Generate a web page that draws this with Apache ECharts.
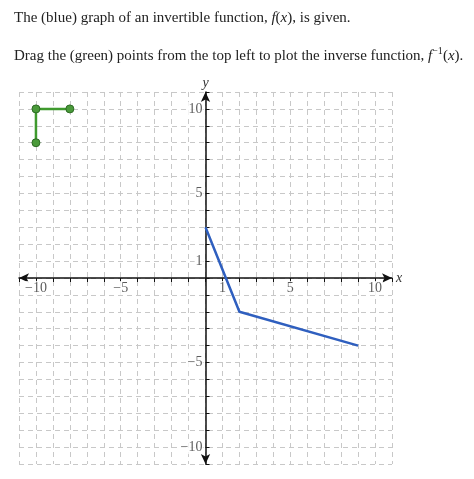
<!DOCTYPE html>
<html><head><meta charset="utf-8">
<script src="https://cdn.jsdelivr.net/npm/echarts@6/dist/echarts.min.js"></script>
<style>
body{margin:0;background:#fff;font-family:"Liberation Serif","DejaVu Serif",serif;color:#222;}
.t{position:absolute;left:14px;font-size:15px;}
#c{position:absolute;left:0;top:0;width:474px;height:479px;}
</style></head><body>
<div id="c"></div>
<div class="t" style="top:9px">The (blue) graph of an invertible function, <i>f</i>(<i>x</i>), is given.</div>
<div class="t" style="top:45px">Drag the (green) points from the top left to plot the inverse function, <i>f</i><sup style="font-size:10px">−1</sup>(<i>x</i>).</div>
<script>
const blueLine = [[0,3],[2,-2],[9,-4]];
const greenLine = [[-10,8],[-10,10],[-8,10]];
const xLabels = [-10,-5,1,5,10];
const yLabels = [-10,-5,1,5,10];
const ch = echarts.init(document.getElementById('c'));
const fmt = v => v<0 ? '−'+(-v) : String(v);
function ax(name, isX){
  return {type:'value',min:-11,max:11,interval:1,name:name,nameLocation:'end',
    nameTextStyle:{fontFamily:'Liberation Serif',fontStyle:'italic',fontSize:14,color:'#333'},
    nameGap:isX?4:2,
    axisLine:{onZero:true,symbol:['arrow','arrow'],symbolSize:[7,10],lineStyle:{color:'#111',width:1.5}},
    axisTick:{show:true,interval:0,length:4,inside:!isX,lineStyle:{color:'#111'}},
    splitLine:{show:true,lineStyle:{type:[5,4],color:'#c8c8c8'}},
    axisLabel:{show:false}};
}
const lblStyle = {fontFamily:'Liberation Serif',fontSize:14,color:'#333',backgroundColor:'#fff',padding:[0,1]};
ch.setOption({
  animation:false,
  grid:{left:19,right:82,top:92,bottom:15,containLabel:false,outerBoundsMode:'none'},
  xAxis:ax('x',true),
  yAxis:ax('y',false),
  series:[
    {type:'line',data:blueLine,symbol:'none',lineStyle:{color:'#2f5fbf',width:2.5}},
    {type:'line',data:greenLine,symbol:'circle',symbolSize:8,
      itemStyle:{color:'#4a9a3a',borderColor:'#2c6a22',borderWidth:1},lineStyle:{color:'#3f9a2e',width:2.5}},
    {type:'scatter',symbolSize:0,silent:true,data:xLabels.map(v=>[v,0]),
      label:Object.assign({show:true,position:'bottom',distance:3,formatter:p=>fmt(p.value[0])},lblStyle)},
    {type:'scatter',symbolSize:0,silent:true,data:yLabels.map(v=>[0,v]),
      label:Object.assign({show:true,position:'left',distance:2,formatter:p=>fmt(p.value[1])},lblStyle)}
  ]
});
</script></body></html>
